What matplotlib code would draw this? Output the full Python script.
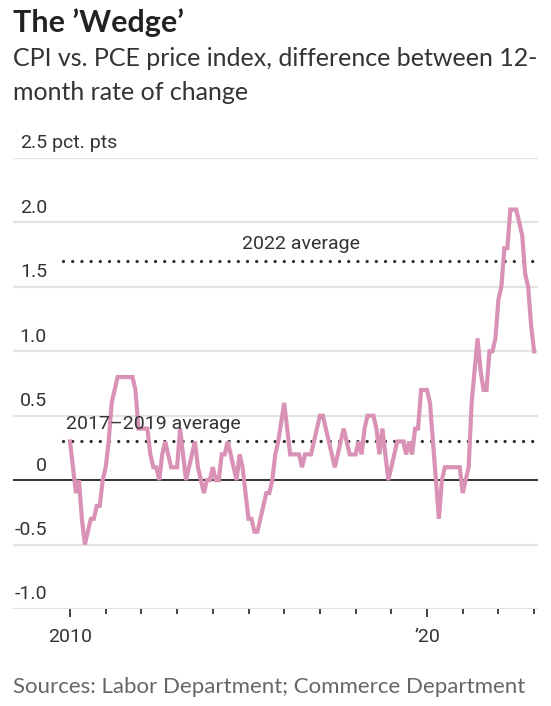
import numpy as np
import matplotlib
matplotlib.use("Agg")
import matplotlib.pyplot as plt
import matplotlib.transforms as mtransforms

# CPI minus PCE, 12-month rate of change, pct. pts (monthly, Jan 2010 - Jan 2023)
v2010 = [0.3, 0.1, -0.1, 0.0, -0.3, -0.5, -0.4, -0.3, -0.3, -0.2, -0.2, 0.0]
v2011 = [0.1, 0.3, 0.6, 0.7, 0.8, 0.8, 0.8, 0.8, 0.8, 0.8, 0.7, 0.4]
v2012 = [0.4, 0.4, 0.4, 0.2, 0.1, 0.1, 0.0, 0.2, 0.3, 0.2, 0.1, 0.1]
v2013 = [0.1, 0.4, 0.2, 0.0, 0.1, 0.2, 0.3, 0.1, 0.0, -0.1, 0.0, 0.0]
v2014 = [0.1, 0.0, 0.0, 0.2, 0.2, 0.3, 0.2, 0.1, 0.0, 0.2, 0.1, -0.1]
v2015 = [-0.3, -0.3, -0.4, -0.4, -0.3, -0.2, -0.1, -0.1, 0.0, 0.2, 0.3, 0.45]
v2016 = [0.6, 0.4, 0.2, 0.2, 0.2, 0.2, 0.1, 0.2, 0.2, 0.2, 0.3, 0.4]
v2017 = [0.5, 0.5, 0.4, 0.3, 0.2, 0.1, 0.2, 0.3, 0.4, 0.3, 0.2, 0.2]
v2018 = [0.2, 0.3, 0.2, 0.4, 0.5, 0.5, 0.5, 0.4, 0.2, 0.4, 0.2, 0.0]
v2019 = [0.1, 0.2, 0.3, 0.3, 0.3, 0.2, 0.3, 0.2, 0.4, 0.4, 0.7, 0.7]
v2020 = [0.7, 0.6, 0.3, 0.0, -0.3, 0.0, 0.1, 0.1, 0.1, 0.1, 0.1, 0.1]
v2021 = [-0.1, 0.0, 0.1, 0.6, 0.85, 1.1, 0.85, 0.7, 0.7, 1.0, 1.0, 1.1]
v2022 = [1.4, 1.5, 1.8, 1.8, 2.1, 2.1, 2.1, 2.0, 1.9, 1.6, 1.5, 1.2]
v2023 = [1.0]

avg_2022 = 1.7
avg_2017_2019 = 0.3

y_ticks = [-1.0, -0.5, 0, 0.5, 1.0, 1.5, 2.0, 2.5]
y_labels = ["-1.0", "-0.5", "0", "0.5", "1.0", "1.5", "2.0", "2.5"]
x_major = {2010: "2010", 2020: "\u201920"}

values = np.array(v2010 + v2011 + v2012 + v2013 + v2014 + v2015 + v2016
                  + v2017 + v2018 + v2019 + v2020 + v2021 + v2022 + v2023)
dates = 2010 + np.arange(len(values)) / 12.0

W, H = 551, 706
fig = plt.figure(figsize=(W / 100, H / 100), dpi=100)

text_font = ["Lato", "DejaVu Sans"]
num_font = ["Liberation Sans Narrow", "Roboto", "DejaVu Sans"]

ax = fig.add_axes([13 / W, 1 - 609 / H, 525 / W, 451 / H])
ax.set_xlim(2010 - 57 / 35.7, 2010 + 468 / 35.7)
ax.set_ylim(-1.0, 2.5)
ax.axis("off")

# gridlines
for t in y_ticks:
    if t == 0:
        continue
    ax.axhline(t, color="#e3e3e3", lw=1.6, zorder=1)
ax.axhline(0, color="#333333", lw=1.4, zorder=3)

# y labels, right aligned just above each gridline
trans_y = mtransforms.blended_transform_factory(fig.transFigure, ax.transData)
offset = mtransforms.ScaledTranslation(0, 4 / 72, fig.dpi_scale_trans)
for t, lab in zip(y_ticks, y_labels):
    ax.text(47 / W, t, lab, transform=trans_y + offset, ha="right", va="bottom",
            fontsize=14, color="#333333", family=num_font)
ax.text(52 / W, 2.5, "pct. pts", transform=trans_y + offset, ha="left", va="bottom",
        fontsize=14, color="#333333", family=num_font)

# x ticks
trans_x = mtransforms.blended_transform_factory(ax.transData, fig.transFigure)
for yr in range(2010, 2024):
    ln = 8 if yr in x_major else 5
    ax.plot([yr, yr], [1 - 609 / H, 1 - (609 + ln) / H], transform=trans_x,
            color="#333333", lw=1.3, clip_on=False, solid_capstyle="butt")
for yr, lab in x_major.items():
    ax.text(yr, 1 - 637 / H, lab, transform=trans_x, ha="center", va="center",
            fontsize=14, color="#333333", family=num_font)

# average lines
x0 = 2010 - 7 / 35.7
x1 = 2023.0
dot = dict(color="#333333", lw=2.4, ls=(0, (0.01, 2.75)), dash_capstyle="round", zorder=2)
ax.plot([x0, x1], [avg_2022, avg_2022], **dot)
ax.plot([x0, x1], [avg_2017_2019, avg_2017_2019], **dot)
ax.text(2010 + 231 / 35.7, avg_2022 + 12 / 129, "2022 average", ha="center",
        va="baseline", fontsize=14, color="#333333", family=num_font)
ax.text(2010 - 4 / 35.7, avg_2017_2019 + 12 / 129, "2017\u20132019 average", ha="left",
        va="baseline", fontsize=14, color="#333333", family=num_font, zorder=5)

# the wedge
ax.plot(dates, values, color="#d992b5", lw=3, solid_joinstyle="miter", zorder=4)

# titles
fig.text(13 / W, 1 - 32 / H, "The \u2019Wedge\u2019", ha="left", va="baseline",
         fontsize=22, fontweight="bold", color="#222222", family=text_font)
fig.text(13 / W, 1 - 66 / H, "CPI vs. PCE price index, difference between 12-",
         ha="left", va="baseline", fontsize=18, color="#333333", family=text_font)
fig.text(13 / W, 1 - 100 / H, "month rate of change",
         ha="left", va="baseline", fontsize=18, color="#333333", family=text_font)
fig.text(13 / W, 1 - 693 / H, "Sources: Labor Department; Commerce Department",
         ha="left", va="baseline", fontsize=16, color="#666666", family=text_font)

fig.savefig("out.png", dpi=100)
